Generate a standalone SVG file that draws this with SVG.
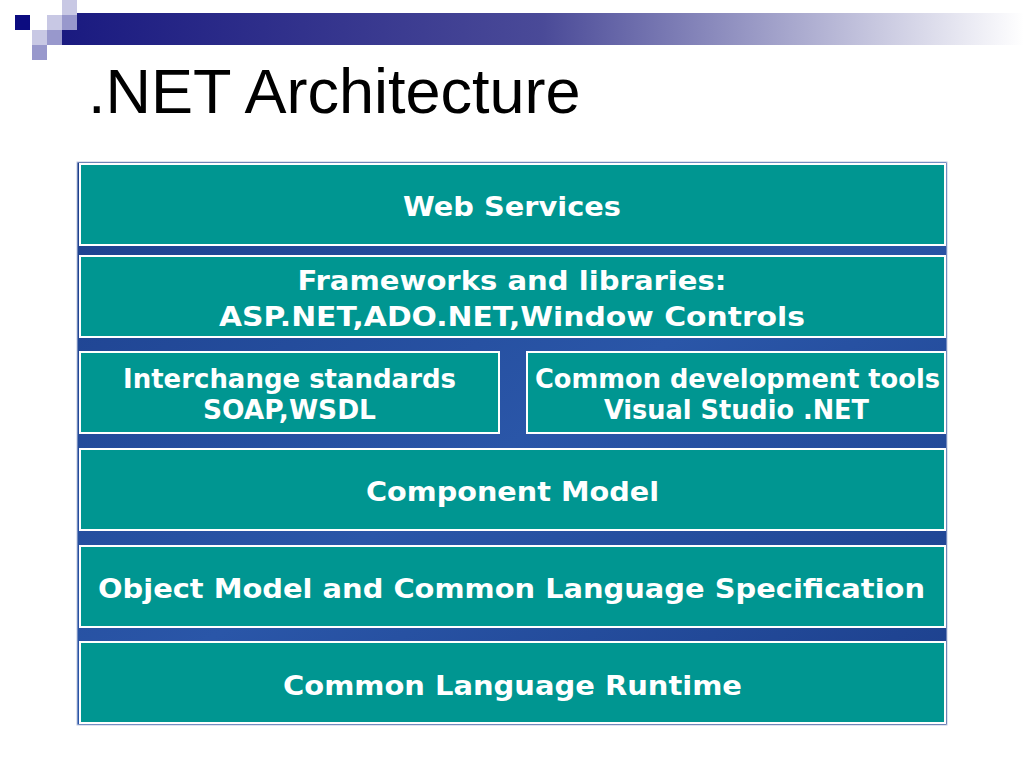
<svg xmlns="http://www.w3.org/2000/svg" width="1024" height="768" viewBox="0 0 1024 768">
<style>
.b{fill:#009691;stroke:#fff;stroke-width:2}
.t{font-family:"DejaVu Sans",sans-serif;font-weight:bold;font-size:27px;fill:#fff;text-anchor:middle}
</style>
<defs>
<linearGradient id="bar" x1="0" x2="1"><stop offset="0" stop-color="#1a1a80"/><stop offset="0.5" stop-color="#4a4a98"/><stop offset="1" stop-color="#ffffff"/></linearGradient>
<linearGradient id="pan" x1="0" y1="0" x2="1" y2="1"><stop offset="0" stop-color="#1c3f8c"/><stop offset="0.5" stop-color="#2a56a8"/><stop offset="1" stop-color="#1c3f8c"/></linearGradient>
</defs>
<rect width="1024" height="768" fill="#fff"/>
<g id="deco">
<rect x="62" y="13" width="962" height="32" fill="url(#bar)"/>
<rect x="15" y="15" width="15" height="15" fill="#0c0c80"/>
<rect x="62" y="0" width="15" height="15" fill="#c8c8e4"/>
<rect x="47" y="15" width="15" height="15" fill="#c8c8e4"/>
<rect x="62" y="15" width="15" height="15" fill="#9898cc"/>
<rect x="32" y="30" width="15" height="15" fill="#c8c8e4"/>
<rect x="47" y="30" width="15" height="15" fill="#9898cc"/>
<rect x="32" y="45" width="15" height="15" fill="#9898cc"/>
</g>
<text x="88" y="113" font-family="Liberation Sans, sans-serif" font-size="63" fill="#000">.NET Architecture</text>
<rect x="77" y="162" width="870" height="563" fill="url(#pan)" stroke="#c0c8e0" stroke-width="1"/>
<g id="n1"><rect class="b" x="80" y="164" width="865" height="81"/><text class="t" x="512" y="216" textLength="218" lengthAdjust="spacingAndGlyphs">Web Services</text></g>
<g id="n2"><rect class="b" x="80" y="256" width="865" height="81"/><text class="t" x="512" y="290" textLength="429" lengthAdjust="spacingAndGlyphs">Frameworks and libraries:</text><text class="t" x="512" y="326" textLength="586" lengthAdjust="spacingAndGlyphs">ASP.NET,ADO.NET,Window Controls</text></g>
<g id="n3"><rect class="b" x="80" y="352" width="419" height="81"/><text class="t" x="289.5" y="388" textLength="333" lengthAdjust="spacingAndGlyphs">Interchange standards</text><text class="t" x="289.5" y="419" textLength="173" lengthAdjust="spacingAndGlyphs">SOAP,WSDL</text></g>
<g id="n4"><rect class="b" x="527" y="352" width="418" height="81"/><text class="t" x="737.5" y="388" textLength="405" lengthAdjust="spacingAndGlyphs">Common development tools</text><text class="t" x="736.5" y="419" textLength="265" lengthAdjust="spacingAndGlyphs">Visual Studio .NET</text></g>
<g id="n5"><rect class="b" x="80" y="449" width="865" height="81"/><text class="t" x="512.5" y="501" textLength="293" lengthAdjust="spacingAndGlyphs">Component Model</text></g>
<g id="n6"><rect class="b" x="80" y="546" width="865" height="81"/><text class="t" x="511.5" y="598" textLength="827" lengthAdjust="spacingAndGlyphs">Object Model and Common Language Specification</text></g>
<g id="n7"><rect class="b" x="80" y="642" width="865" height="81"/><text class="t" x="512.5" y="695" textLength="459" lengthAdjust="spacingAndGlyphs">Common Language Runtime</text></g>
<g id="connectors"/>
</svg>
